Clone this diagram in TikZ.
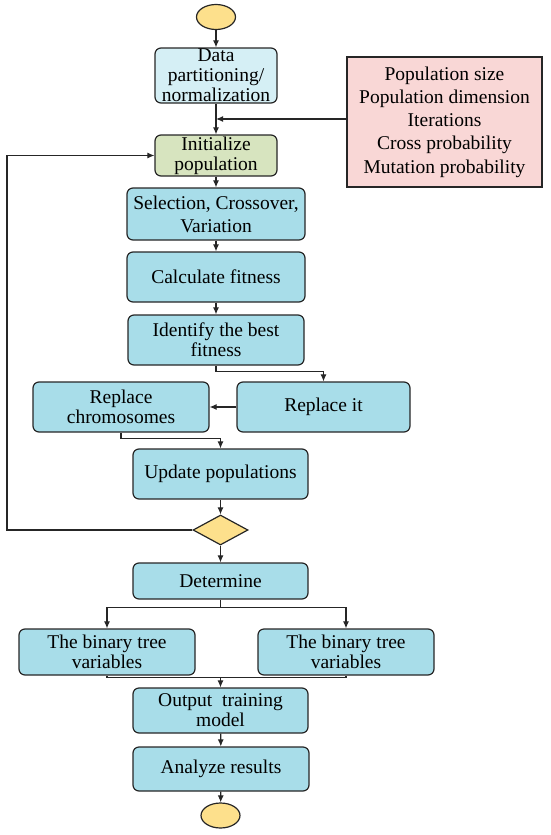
\documentclass[tikz,border=0pt]{standalone}
\usepackage{fontspec}
\setmainfont{Liberation Serif}
\usetikzlibrary{shapes.geometric,arrows.meta,calc}
\definecolor{boxblue}{HTML}{A8DDE9}
\definecolor{datablue}{HTML}{D5EFF5}
\definecolor{initgreen}{HTML}{D7E4BF}
\definecolor{parampink}{HTML}{F9D7D6}
\definecolor{endyellow}{HTML}{FDE08C}
\definecolor{linegray}{HTML}{262626}
\tikzset{
  stepbox/.style={draw=linegray, fill=boxblue, rounded corners=6pt, line width=1.2pt,
    align=center, inner sep=0pt, font=\fontsize{19.5}{20}\selectfont},
  termnode/.style={draw=linegray, fill=endyellow, ellipse, line width=1.2pt,
    minimum width=39, minimum height=25, inner sep=0pt},
  arr/.style={-{Latex[length=7pt,width=6pt]}, line width=1.1pt, draw=linegray},
  wire/.style={line width=1.1pt, draw=linegray},
}
\newcommand{\flowstep}[7][]{\node[stepbox, minimum width=#5, minimum height=#6, #1] (#2) at (#3,#4) {#7};}

\begin{document}
\begin{tikzpicture}[x=1pt, y=-1pt]
        \useasboundingbox (0,0) rectangle (550,835);
        % start and end
        \node[termnode] (start) at (216,17) {};
        \node[termnode] (stop) at (220.5,815.5) {};
        % upper part
        \flowstep[fill=datablue]{data}{216}{75.5}{122}{55}{Data\\partitioning/\\normalization}
        \flowstep[fill=initgreen]{init}{216}{155.5}{122}{41}{Initialize\\population}
        \node[draw=linegray, fill=parampink, line width=1.2pt, align=center, inner sep=0pt,
          minimum width=195, minimum height=130, font=\fontsize{19.5}{23.3}\selectfont]
          (params) at (444.5,122) {Population size\\Population dimension\\Iterations\\Cross probability\\Mutation probability};
        \flowstep[font=\fontsize{19.5}{23}\selectfont]{select}{216}{214}{178}{52}{Selection, Crossover,\\Variation}
        \flowstep{calc}{216}{277}{178}{50}{Calculate fitness}
        \flowstep{best}{216}{340}{176}{50}{Identify the best\\fitness}
        % replace row
        \flowstep{replit}{323.5}{407}{173}{50}{Replace it}
        \flowstep{replch}{121}{407}{176}{50}{Replace\\chromosomes}
        \flowstep{update}{220.5}{474}{175}{50}{Update populations}
        \node[draw=linegray, fill=endyellow, diamond, line width=1.2pt, inner sep=0pt,
          minimum width=55, minimum height=30] (decide) at (220.5,530) {};
        % lower part
        \flowstep{determine}{220.5}{581}{175}{36}{Determine}
        \flowstep{binl}{107}{652}{176}{46}{The binary tree\\variables}
        \flowstep{binr}{346}{652}{176}{46}{The binary tree\\variables}
        \flowstep{output}{220.5}{710.5}{175}{45}{Output\ \ training\\model}
        \flowstep{analyze}{221}{769}{176}{44}{Analyze results}
        % connectors
        \draw[arr] (start) -- (data);
        \draw[arr] (data) -- (init);
        \draw[arr] ($(params.west)+(0,-3)$) -- ($(params.west -| data.south)+(0,-3)$);
        \draw[arr] (init) -- (select);
        \draw[arr] (select) -- (calc);
        \draw[arr] (calc) -- (best);
        \draw[arr] (best.south) -- ++(0,6) -| (replit.north);
        \draw[arr] (replit.west) -- (replch.east);
        \draw[arr] (replch.south) -- ++(0,6) -| (update.north);
        \draw[arr] (update) -- (decide);
        \coordinate (loop) at (7,530);
        \draw[arr] (decide.west) -- (loop) |- (init.west);
        \draw[arr] (decide) -- (determine);
        \coordinate (split) at ($(determine.south)+(0,8)$);
        \draw[wire] (determine.south) -- (split);
        \draw[arr] (split) -| (binl.north);
        \draw[arr] (split) -| (binr.north);
        \coordinate (merge) at ($(binl.south -| output.north)+(0,2)$);
        \draw[wire] (binl.south) |- (merge) -| (binr.south);
        \draw[arr] (merge) -- (output.north);
        \draw[arr] (output) -- (analyze);
        \draw[arr] (analyze) -- (stop);
    \end{tikzpicture}
\end{document}
